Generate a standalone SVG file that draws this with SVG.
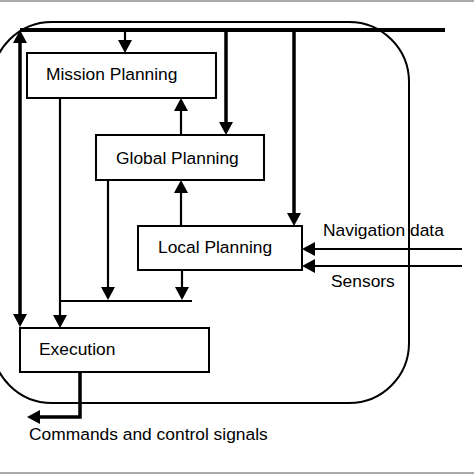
<svg xmlns="http://www.w3.org/2000/svg" width="474" height="474" viewBox="0 0 474 474">
<style>
.box{fill:#fff;stroke:#000;stroke-width:2}
.lbl{font-family:"Liberation Sans",Arial,sans-serif;font-size:17.4px;fill:#000}
.thin{stroke:#000;stroke-width:2.2;fill:none}
.thick{stroke:#000;stroke-width:3.5;fill:none}
.bus{stroke:#000;stroke-width:4;fill:none}
.band{fill:#aaaaaa}
</style>
<defs>
<marker id="ah" markerUnits="userSpaceOnUse" markerWidth="14" markerHeight="14" refX="0" refY="7" orient="auto-start-reverse">
<path d="M0,0 L13,7 L0,14 z" fill="#000"/>
</marker>
</defs>
<rect x="0" y="0" width="474" height="474" fill="#fff"/>
<rect class="band" x="0" y="0" width="474" height="2"/>
<rect class="band" x="0" y="472" width="474" height="2"/>
<rect id="boundary" x="-8" y="22" width="417" height="381" rx="60" ry="60" fill="none" stroke="#000" stroke-width="2"/>
<g id="mission"><rect class="box" x="27" y="53" width="189" height="45"/><text class="lbl" x="46" y="80">Mission Planning</text></g>
<g id="global"><rect class="box" x="96" y="135" width="168" height="45"/><text class="lbl" x="116" y="164">Global Planning</text></g>
<g id="local"><rect class="box" x="138" y="226" width="164" height="44"/><text class="lbl" x="158" y="253">Local Planning</text></g>
<g id="execution"><rect class="box" x="20" y="328" width="189" height="44"/><text class="lbl" x="39" y="355">Execution</text></g>
<g id="connectors">
<line class="bus" x1="20" y1="30" x2="445" y2="30"/>
<line class="thick" x1="20" y1="43" x2="20" y2="314" marker-start="url(#ah)" marker-end="url(#ah)"/>
<line class="thin" x1="125" y1="30" x2="125" y2="40" marker-end="url(#ah)"/>
<line class="thin" x1="60" y1="98" x2="60" y2="315" marker-end="url(#ah)"/>
<line class="thin" x1="181" y1="135" x2="181" y2="111" marker-end="url(#ah)"/>
<line class="thick" x1="226" y1="30" x2="226" y2="122" marker-end="url(#ah)"/>
<line class="thin" x1="108" y1="180" x2="108" y2="287" marker-end="url(#ah)"/>
<line class="thin" x1="181" y1="226" x2="181" y2="193" marker-end="url(#ah)"/>
<line class="thick" x1="294" y1="30" x2="294" y2="213" marker-end="url(#ah)"/>
<line class="thin" x1="182" y1="270" x2="182" y2="287" marker-end="url(#ah)"/>
<line class="thin" x1="59" y1="301" x2="192" y2="301"/>
<line class="thin" x1="462" y1="249" x2="315" y2="249" marker-end="url(#ah)"/>
<line class="thin" x1="462" y1="266" x2="315" y2="266" marker-end="url(#ah)"/>
<polyline class="thick" points="80,372 80,417 40,417" marker-end="url(#ah)"/>
</g>
<text class="lbl" x="323" y="236">Navigation data</text>
<text class="lbl" x="331" y="287">Sensors</text>
<text class="lbl" x="29" y="440">Commands and control signals</text>
</svg>
